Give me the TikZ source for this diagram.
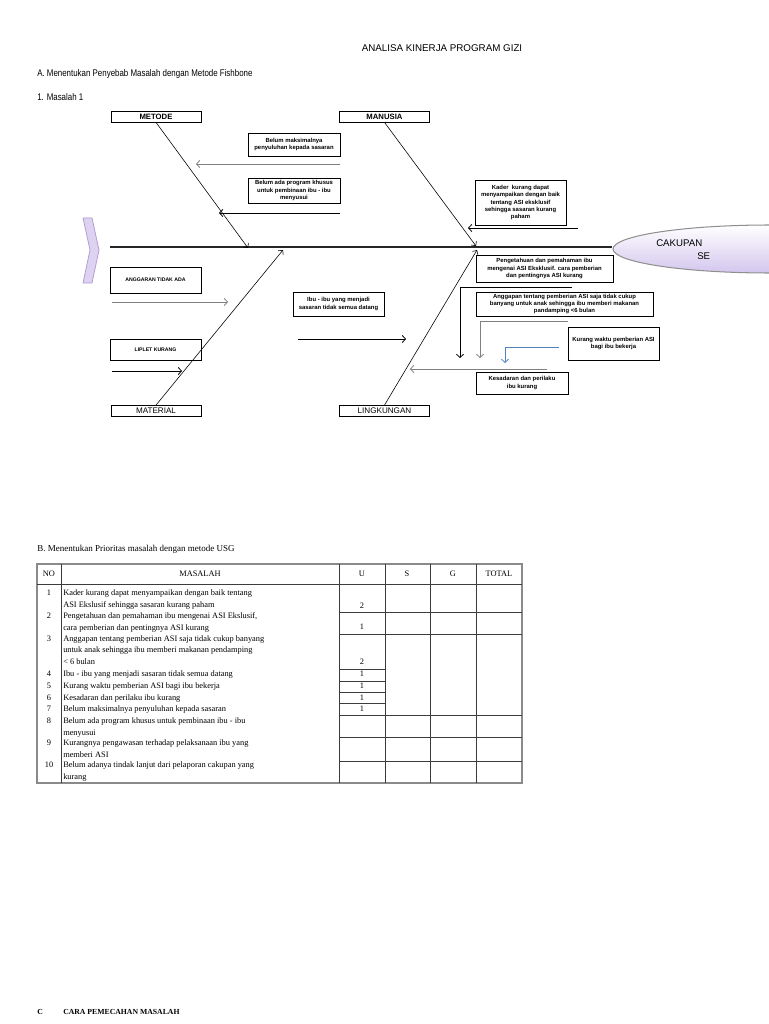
\documentclass[tikz,border=0pt]{standalone}
\usepackage{fontspec}
\setmainfont{Liberation Serif}
\newfontfamily\hdfont{Liberation Sans}
\newfontfamily\nrfont[FakeStretch=0.82]{Liberation Sans}
\usepackage{tikz}
\usetikzlibrary{arrows.meta, shapes.geometric}
\definecolor{chevFill}{HTML}{DDD2F0}
\definecolor{chevLine}{HTML}{B49AD8}
\definecolor{ovalTop}{HTML}{FFFFFF}
\definecolor{ovalBot}{HTML}{D3C6EE}
\definecolor{ovalLine}{HTML}{8F8F8F}
\definecolor{feedGray}{HTML}{808080}
\definecolor{feedBlue}{HTML}{4F81BD}
\definecolor{tblLine}{HTML}{3C3C3C}
\definecolor{tblEdge}{HTML}{8A8A8A}
\newdimen\pxu \pxu=0.273mm
\newcommand{\fsz}[2]{\fontsize{#1}{#2}\selectfont}

\begin{document}
\begin{tikzpicture}[x=0.273mm, y=-0.273mm, txt/.style={inner sep=0pt}, catbox/.style={draw, line width=0.6pt, minimum width=90\pxu, minimum height=11\pxu, inner sep=0pt}, cause/.style={draw, line width=0.6pt, align=center, inner sep=0pt, font=\hdfont\bfseries\fsz{4.6}{5.7}}, bone/.style={line width=0.45pt, -{Straight Barb[length=2.5pt, width=5pt]}}, feed/.style={line width=0.6pt, -{Straight Barb[length=2.5pt, width=5.5pt]}}, spine/.style={line width=1pt, color=black!85}, tbl/.style={line width=0.5pt, color=tblLine}, row/.style={txt, anchor=base west, align=left, font=\fsz{6.5}{8.9}}, num/.style={txt, anchor=base, font=\fsz{6.5}{8.9}}]
\useasboundingbox (0,0) rectangle (768,1024);
\node[txt, font=\hdfont\fsz{7.6}{9}] (title) at (442,48) {ANALISA KINERJA PROGRAM GIZI};
\node[txt, anchor=west, font=\nrfont\fsz{7.5}{9}] (secA) at (37,74) {A. Menentukan Penyebab Masalah dengan Metode Fishbone};
\node[txt, anchor=west, font=\nrfont\fsz{7.5}{9}] (mas1) at (37,97) {1. Masalah 1};
\node[catbox, font=\hdfont\bfseries\fsz{6}{7}] (metode) at (156,116.5) {METODE};
\node[catbox, font=\hdfont\bfseries\fsz{6}{7}] (manusia) at (384.5,116.5) {MANUSIA};
\node[catbox, font=\hdfont\fsz{6.3}{7}] (material) at (156,411) {MATERIAL};
\node[catbox, font=\hdfont\fsz{6.3}{7}] (lingkungan) at (384.5,411) {LINGKUNGAN};
\node[cause, minimum width=92\pxu, minimum height=23\pxu] (maks) at (294,144.5) {Belum maksimalnya\\penyuluhan kepada sasaran};
\node[cause, minimum width=92\pxu, minimum height=25\pxu] (khusus) at (294,190.5) {Belum ada program khusus\\untuk pembinaan ibu - ibu\\menyusui};
\node[cause, minimum width=91\pxu, minimum height=45\pxu] (kader) at (520.5,202.5) {Kader \ kurang dapat\\menyampaikan dengan baik\\tentang ASI eksklusif\\sehingga sasaran kurang\\paham};
\node[cause, minimum width=137\pxu, minimum height=27\pxu] (tahu) at (544.5,268.5) {Pengetahuan dan pemahaman ibu\\mengenai ASI Eksklusif. cara pemberian\\dan pentingnya ASI kurang};
\node[cause, minimum width=177\pxu, minimum height=24\pxu] (anggap) at (564.5,304) {Anggapan tentang pemberian ASI saja tidak cukup\\banyang untuk anak sehingga ibu memberi makanan\\pandamping <6 bulan};
\node[cause, minimum width=91\pxu, minimum height=33\pxu] (waktu) at (613.5,343.5) {Kurang waktu pemberian ASI\\bagi ibu bekerja};
\node[cause, minimum width=92\pxu, minimum height=22\pxu] (sadar) at (522,383) {Kesadaran dan perilaku\\ibu kurang};
\node[cause, minimum width=91\pxu, minimum height=26\pxu, font=\hdfont\bfseries\fsz{4}{5}] (anggaran) at (155.5,280) {ANGGARAN TIDAK ADA};
\node[cause, minimum width=91\pxu, minimum height=21\pxu, font=\hdfont\bfseries\fsz{4}{5}] (liplet) at (155.5,349.5) {LIPLET KURANG};
\node[cause, minimum width=91\pxu, minimum height=24\pxu] (datang) at (338.5,304) {Ibu - ibu yang menjadi\\sasaran tidak semua datang};
\draw[chevLine, fill=chevFill, line width=0.6pt] (83,218) -- (92,218) -- (99,250) -- (92,283) -- (83,283) -- (90,250) -- cycle;
\node[ellipse, draw=ovalLine, line width=0.8pt, top color=ovalTop, bottom color=ovalBot, minimum width=314\pxu, minimum height=48\pxu, inner sep=0pt] (cakupan) at (770,249) {};
\node[txt, anchor=west, font=\hdfont\fsz{7.5}{9}] (cakA) at (656,243) {CAKUPAN};
\node[txt, anchor=west, font=\hdfont\fsz{7.5}{9}] (cakB) at (697,256) {SE};
\coordinate (tail) at (110,247);
\coordinate (tipM) at (248,248);
\coordinate (tipN) at (476,246);
\coordinate (tipT) at (283,250);
\coordinate (tipL) at (477,250);
\draw[spine] (tail) -- (tail -| cakupan.west);
\draw[bone] (metode.south) -- (tipM);
\draw[bone] (manusia.south) -- (tipN);
\draw[bone] (material.north) -- (tipT);
\draw[bone] (lingkungan.north) -- (tipL);
\coordinate (f1s) at (340,164); \coordinate (f1e) at (196,164);
\coordinate (f2s) at (340,213); \coordinate (f2e) at (219,213);
\coordinate (f3s) at (578,228); \coordinate (f3e) at (468,228);
\coordinate (f4s) at (572,287); \coordinate (f4e) at (460,358);
\coordinate (f5s) at (568,321); \coordinate (f5e) at (480,358);
\coordinate (f6s) at (559,347); \coordinate (f6e) at (505,363);
\coordinate (f7s) at (547,369); \coordinate (f7e) at (410,369);
\coordinate (f8s) at (112,302); \coordinate (f8e) at (228,302);
\coordinate (f9s) at (112,371); \coordinate (f9e) at (182,371);
\coordinate (f10s) at (298,339); \coordinate (f10e) at (406,339);
\draw[feed, feedGray] (f1s) -- (f1e);
\draw[feed] (f2s) -- (f2e);
\draw[feed] (f3s) -- (f3e);
\draw[feed] (f4s) -| (f4e);
\draw[feed, feedGray] (f5s) -| (f5e);
\draw[feed, feedBlue] (f6s) -| (f6e);
\draw[feed, feedGray] (f7s) -- (f7e);
\draw[feed, feedGray] (f8s) -- (f8e);
\draw[feed] (f9s) -- (f9e);
\draw[feed] (f10s) -- (f10e);
\node[txt, anchor=west, font=\fsz{7}{9}] (secB) at (37,549) {B. Menentukan Prioritas masalah dengan metode USG};
\draw[line width=1pt, tblEdge] (37,564) rectangle (522,783);
\draw[tbl] (37,584) -- (522,584);
\draw[tbl] (61,564) -- (61,783) (339,564) -- (339,783) (385,564) -- (385,783) (430,564) -- (430,783) (476,564) -- (476,783);
\draw[tbl] (339,612) -- (522,612) (339,634) -- (522,634) (339,715) -- (522,715) (339,737) -- (522,737) (339,761) -- (522,761);
\draw[tbl] (339,669) -- (385,669) (339,681) -- (385,681) (339,692) -- (385,692) (339,703) -- (385,703);
\node[num] (hNo) at (49,576.5) {NO};
\node[num] (hMas) at (200,576.5) {MASALAH};
\node[num] (hU) at (362,576.5) {U};
\node[num] (hS) at (407,576.5) {S};
\node[num] (hG) at (453,576.5) {G};
\node[num] (hTot) at (499,576.5) {TOTAL};
\node[num] (n1) at (49,595.5) {1};
\node[row] (r1) at (63,607) {Kader kurang dapat menyampaikan dengan baik tentang\\ASI Ekslusif sehingga sasaran kurang paham};
\node[num] (n2) at (49,618.5) {2};
\node[row] (r2) at (63,630) {Pengetahuan dan pemahaman ibu mengenai ASI Ekslusif,\\cara pemberian dan pentingnya ASI kurang};
\node[num] (n3) at (49,641.5) {3};
\node[row] (r3) at (63,664.4) {Anggapan tentang pemberian ASI saja tidak cukup banyang\\untuk anak sehingga ibu memberi makanan pendamping\\< 6 bulan};
\node[num] (n4) at (49,676.5) {4};
\node[row] (r4) at (63,676.5) {Ibu - ibu yang menjadi sasaran tidak semua datang};
\node[num] (n5) at (49,688.5) {5};
\node[row] (r5) at (63,688.5) {Kurang waktu pemberian ASI bagi ibu bekerja};
\node[num] (n6) at (49,700.5) {6};
\node[row] (r6) at (63,700.5) {Kesadaran dan perilaku ibu kurang};
\node[num] (n7) at (49,711.5) {7};
\node[row] (r7) at (63,711.5) {Belum maksimalnya penyuluhan kepada sasaran};
\node[num] (n8) at (49,723.5) {8};
\node[row] (r8) at (63,735) {Belum ada program khusus untuk pembinaan ibu - ibu\\menyusui};
\node[num] (n9) at (49,745.5) {9};
\node[row] (r9) at (63,757) {Kurangnya pengawasan terhadap pelaksanaan ibu yang\\memberi ASI};
\node[num] (n10) at (49,767.5) {10};
\node[row] (r10) at (63,779) {Belum adanya tindak lanjut dari pelaporan cakupan yang\\kurang};
\node[num] (u1) at (362,608.5) {2};
\node[num] (u2) at (362,629.5) {1};
\node[num] (u3) at (362,664.5) {2};
\node[num] (u4) at (362,676.5) {1};
\node[num] (u5) at (362,688.5) {1};
\node[num] (u6) at (362,700.5) {1};
\node[num] (u7) at (362,711.5) {1};
\node[txt, anchor=west, font=\bfseries\fsz{6}{8}] (secC) at (37,1012) {C};
\node[txt, anchor=west, font=\bfseries\fsz{6}{8}] (secCt) at (63,1012) {CARA PEMECAHAN MASALAH};
\end{tikzpicture}
\end{document}
